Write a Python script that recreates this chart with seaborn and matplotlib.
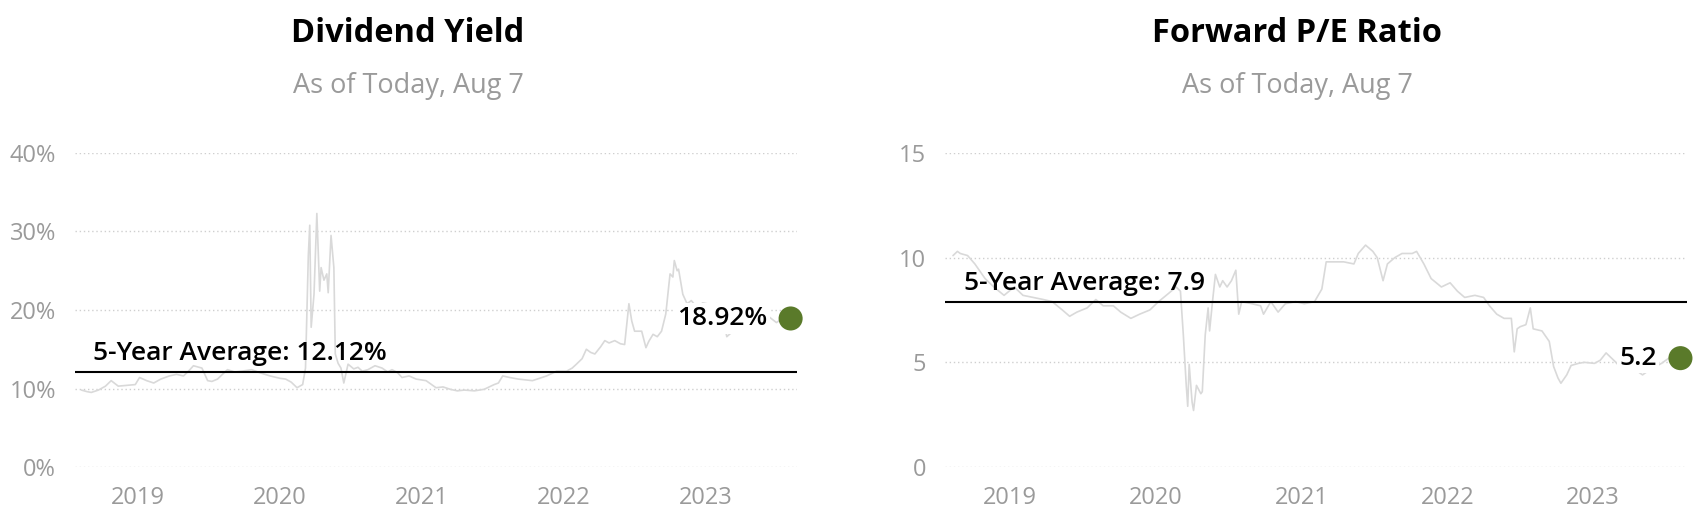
import matplotlib
matplotlib.use("Agg")
import matplotlib.pyplot as plt
import seaborn as sns
import pandas as pd

# === Data (decimal years) ===
div_years = [2018.60, 2018.64, 2018.67, 2018.72, 2018.77, 2018.81, 2018.86, 2018.92, 2018.98,
             2019.01, 2019.06, 2019.11, 2019.16, 2019.22, 2019.27, 2019.32, 2019.36, 2019.39,
             2019.45, 2019.49, 2019.52, 2019.56, 2019.60, 2019.63, 2019.68, 2019.73, 2019.80,
             2019.86, 2019.93, 2020.00, 2020.04, 2020.08, 2020.12, 2020.16, 2020.18, 2020.20,
             2020.21, 2020.22, 2020.24, 2020.26, 2020.27, 2020.28, 2020.29, 2020.31, 2020.33,
             2020.34, 2020.35, 2020.36, 2020.38, 2020.39, 2020.41, 2020.43, 2020.45, 2020.48,
             2020.52, 2020.55, 2020.58, 2020.62, 2020.67, 2020.72, 2020.76, 2020.79, 2020.83,
             2020.86, 2020.91, 2020.96, 2021.03, 2021.10, 2021.15, 2021.20, 2021.25, 2021.30,
             2021.37, 2021.44, 2021.51, 2021.54, 2021.57, 2021.62, 2021.68, 2021.73, 2021.78,
             2021.83, 2021.88, 2021.95, 2022.02, 2022.06, 2022.09, 2022.13, 2022.16, 2022.19,
             2022.22, 2022.26, 2022.29, 2022.32, 2022.36, 2022.40, 2022.43, 2022.46, 2022.48,
             2022.50, 2022.55, 2022.58, 2022.60, 2022.63, 2022.66, 2022.69, 2022.72, 2022.75,
             2022.77, 2022.78, 2022.80, 2022.81, 2022.84, 2022.87, 2022.90, 2022.94, 2022.98,
             2023.01, 2023.04, 2023.08, 2023.12, 2023.15, 2023.20, 2023.25, 2023.30, 2023.35,
             2023.40, 2023.45, 2023.50, 2023.55, 2023.60]
div_values = [9.8, 9.6, 9.5, 9.8, 10.3, 11.0, 10.3, 10.4, 10.5,
              11.4, 11.0, 10.7, 11.2, 11.6, 11.8, 11.6, 12.3, 12.9,
              12.6, 11.0, 10.9, 11.2, 11.9, 12.4, 12.1, 12.2, 12.4,
              12.0, 11.6, 11.3, 11.2, 10.8, 10.1, 10.5, 12.6, 27.0,
              30.8, 17.8, 22.0, 32.3, 27.5, 22.4, 25.4, 23.8, 24.6,
              22.2, 25.8, 29.5, 25.4, 14.4, 13.2, 12.6, 10.7, 13.1,
              12.5, 12.7, 12.2, 12.4, 12.9, 12.6, 12.1, 12.4, 12.0,
              11.4, 11.6, 11.2, 11.0, 10.1, 10.2, 9.9, 9.7, 9.8,
              9.7, 9.9, 10.5, 10.7, 11.6, 11.4, 11.2, 11.1, 11.0,
              11.3, 11.6, 12.2, 12.2, 12.6, 13.1, 13.8, 15.0, 14.6,
              14.4, 15.3, 16.1, 15.8, 16.1, 15.7, 15.6, 20.8, 18.6,
              17.3, 17.3, 15.2, 16.0, 16.9, 16.6, 17.3, 19.5, 24.6,
              24.2, 26.3, 25.0, 25.2, 22.0, 20.8, 21.2, 20.3, 20.9,
              20.8, 18.6, 20.8, 19.5, 16.6, 17.4, 17.8, 18.0, 18.3,
              18.6, 19.1, 18.4, 19.0, 18.92]

pe_years = [2018.61, 2018.64, 2018.66, 2018.71, 2018.76, 2018.80, 2018.83, 2018.89, 2018.96,
            2019.03, 2019.09, 2019.16, 2019.23, 2019.29, 2019.36, 2019.41, 2019.46, 2019.53,
            2019.59, 2019.64, 2019.71, 2019.76, 2019.83, 2019.89, 2019.96, 2020.02, 2020.09,
            2020.14, 2020.17, 2020.19, 2020.21, 2020.22, 2020.23, 2020.25, 2020.26, 2020.28,
            2020.31, 2020.32, 2020.34, 2020.36, 2020.37, 2020.39, 2020.41, 2020.44, 2020.46,
            2020.49, 2020.52, 2020.55, 2020.57, 2020.59, 2020.66, 2020.72, 2020.74, 2020.79,
            2020.84, 2020.89, 2020.96, 2021.02, 2021.09, 2021.14, 2021.17, 2021.22, 2021.29,
            2021.36, 2021.39, 2021.44, 2021.49, 2021.52, 2021.56, 2021.59, 2021.64, 2021.69,
            2021.76, 2021.79, 2021.84, 2021.89, 2021.96, 2022.02, 2022.07, 2022.12, 2022.19,
            2022.25, 2022.29, 2022.34, 2022.39, 2022.44, 2022.46, 2022.48, 2022.50, 2022.54,
            2022.57, 2022.59, 2022.65, 2022.70, 2022.73, 2022.76, 2022.78, 2022.82, 2022.85,
            2022.90, 2022.94, 2023.01, 2023.05, 2023.09, 2023.15, 2023.21, 2023.28, 2023.34,
            2023.40, 2023.47, 2023.52, 2023.60]
pe_values = [10.1, 10.3, 10.2, 10.1, 9.7, 9.3, 9.0, 8.6, 8.2,
             8.6, 8.2, 8.1, 8.0, 7.9, 7.5, 7.2, 7.4, 7.6,
             8.0, 7.7, 7.7, 7.4, 7.1, 7.3, 7.5, 7.9, 8.3,
             8.6, 8.4, 6.3, 3.9, 2.9, 4.9, 3.1, 2.7, 3.9,
             3.5, 3.6, 6.3, 7.6, 6.5, 7.9, 9.2, 8.6, 8.9,
             8.6, 8.9, 9.4, 7.3, 7.9, 7.8, 7.7, 7.3, 7.9,
             7.4, 7.8, 7.9, 7.8, 7.9, 8.5, 9.8, 9.8, 9.8,
             9.7, 10.2, 10.6, 10.3, 10.0, 8.9, 9.7, 10.0, 10.2,
             10.2, 10.3, 9.7, 9.0, 8.6, 8.8, 8.4, 8.1, 8.2,
             8.1, 7.7, 7.3, 7.1, 7.1, 5.5, 6.6, 6.7, 6.8,
             7.6, 6.6, 6.5, 6.0, 4.8, 4.25, 4.0, 4.4, 4.85,
             4.95, 5.0, 4.95, 5.1, 5.45, 5.05, 4.6, 4.7, 4.4,
             4.7, 4.95, 5.2, 5.2]

titles = ["Dividend Yield", "Forward P/E Ratio"]
subtitle = "As of Today, Aug 7"
averages = [12.12, 7.9]
avg_labels = ["5-Year Average: 12.12%", "5-Year Average: 7.9"]
latest_labels = ["18.92%", "5.2"]
latest_year = 2023.60
latest_values = [18.92, 5.2]
year_ticks = [2019, 2020, 2021, 2022, 2023]
year_labels = ["2019", "2020", "2021", "2022", "2023"]
div_ticks = [0, 10, 20, 30, 40]
div_tick_labels = ["0%", "10%", "20%", "30%", "40%"]
pe_ticks = [0, 5, 10, 15]
pe_tick_labels = ["0", "5", "10", "15"]

# === Style ===
sns.set_style("white")
plt.rcParams["font.family"] = ["Open Sans", "DejaVu Sans"]

LINE_GRAY = "#d9d9d9"
TEXT_GRAY = "#9a9a9a"
DOT_GREEN = "#5a7a2a"

fig = plt.figure(figsize=(17.02, 5.16), dpi=100)
W, H = 1702, 516
ax_left = fig.add_axes([75 / W, 1 - 467 / H, 722 / W, 314 / H])
ax_right = fig.add_axes([945 / W, 1 - 467 / H, 742 / W, 314 / H])

panels = [
    (ax_left, div_years, div_values, div_ticks, div_tick_labels, 408),
    (ax_right, pe_years, pe_values, pe_ticks, pe_tick_labels, 1297),
]

for i, (ax, xs, ys, yt, ytl, cx) in enumerate(panels):
    df = pd.DataFrame({"year": xs, "value": ys})
    sns.lineplot(data=df, x="year", y="value", ax=ax, color=LINE_GRAY, linewidth=1.2, zorder=2)

    # average line + label
    ax.axhline(averages[i], color="black", linewidth=1.5, zorder=3)
    ax.annotate(avg_labels[i], xy=(0.025, averages[i]), xycoords=("axes fraction", "data"),
                xytext=(0, 8.6), textcoords="offset points", ha="left", va="baseline",
                fontsize=19, fontweight="semibold", color="black", zorder=4)

    # latest value dot + label
    dot = pd.DataFrame({"year": [latest_year], "value": [latest_values[i]]})
    sns.scatterplot(data=dot, x="year", y="value", ax=ax, s=300, color=DOT_GREEN,
                    edgecolor="none", zorder=6, clip_on=False)
    ax.annotate(latest_labels[i], xy=(latest_year, latest_values[i]),
                xytext=(-17, 0), textcoords="offset points", ha="right", va="center",
                fontsize=19, fontweight="semibold", color="black", zorder=5,
                bbox=dict(boxstyle="square,pad=0.1", facecolor="white", edgecolor="none"))

    ax.set_xlim(2018.555, 2023.645)
    ax.set_ylim(yt[0], yt[-1])
    ax.set_xticks(year_ticks)
    ax.set_xticklabels(year_labels)
    ax.set_yticks(yt)
    ax.set_yticklabels(ytl)
    ax.set_xlabel("")
    ax.set_ylabel("")

    ax.grid(axis="y", color="#cfcfcf", linestyle=(0, (1, 2)), linewidth=1.0)
    ax.grid(axis="x", visible=False)
    ax.set_axisbelow(True)
    sns.despine(ax=ax, left=True, bottom=True, top=True, right=True)

    ax.tick_params(axis="x", direction="out", length=13, width=1.1, color="#dddddd",
                   labelsize=17, labelcolor=TEXT_GRAY, pad=1)
    ax.tick_params(axis="y", length=0, labelsize=17, labelcolor=TEXT_GRAY, pad=13.5)

    fig.text(cx / W, 1 - 42 / H, titles[i], ha="center", va="baseline",
             fontsize=23.5, fontweight="bold", color="black")
    fig.text(cx / W, 1 - 93 / H, subtitle, ha="center", va="baseline",
             fontsize=19.5, color=TEXT_GRAY)

fig.savefig("out.png", dpi=100)
plt.close(fig)
